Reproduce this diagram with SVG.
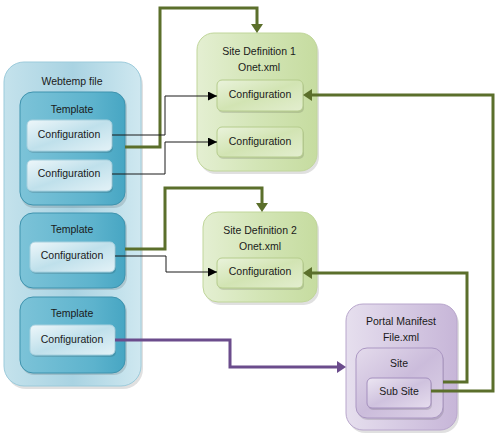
<svg xmlns="http://www.w3.org/2000/svg" width="500" height="436" viewBox="0 0 500 436">
<defs>
  <linearGradient id="gBlueOuter" x1="0" y1="0" x2="1" y2="0">
    <stop offset="0" stop-color="#c4e2ec"/>
    <stop offset="0.5" stop-color="#a9d3e2"/>
    <stop offset="1" stop-color="#cfe8f0"/>
  </linearGradient>
  <linearGradient id="gBlueTpl" x1="0" y1="0" x2="1" y2="0">
    <stop offset="0" stop-color="#7cc3d8"/>
    <stop offset="0.7" stop-color="#5db3cd"/>
    <stop offset="1" stop-color="#47a6c3"/>
  </linearGradient>
  <linearGradient id="gBlueCfg" x1="0" y1="0" x2="1" y2="1">
    <stop offset="0" stop-color="#eef7fa"/>
    <stop offset="0.5" stop-color="#bfe0eb"/>
    <stop offset="1" stop-color="#e4f2f7"/>
  </linearGradient>
  <linearGradient id="gGreenOuter" x1="0" y1="0" x2="1" y2="0">
    <stop offset="0" stop-color="#e4efd2"/>
    <stop offset="0.5" stop-color="#d3e5b6"/>
    <stop offset="1" stop-color="#c6dca0"/>
  </linearGradient>
  <linearGradient id="gGreenCfg" x1="0" y1="0" x2="1" y2="1">
    <stop offset="0" stop-color="#eaf3dc"/>
    <stop offset="0.5" stop-color="#d2e4b3"/>
    <stop offset="1" stop-color="#e3eecf"/>
  </linearGradient>
  <linearGradient id="gPurpleOuter" x1="0" y1="0" x2="1" y2="0">
    <stop offset="0" stop-color="#e6dfee"/>
    <stop offset="0.5" stop-color="#d6cae3"/>
    <stop offset="1" stop-color="#c7b6d8"/>
  </linearGradient>
  <linearGradient id="gPurpleMid" x1="0" y1="0" x2="1" y2="1">
    <stop offset="0" stop-color="#e4dbec"/>
    <stop offset="0.5" stop-color="#cbbcdb"/>
    <stop offset="1" stop-color="#ddd2e7"/>
  </linearGradient>
  <linearGradient id="gPurpleIn" x1="0" y1="0" x2="1" y2="1">
    <stop offset="0" stop-color="#ece6f2"/>
    <stop offset="0.5" stop-color="#cfc2de"/>
    <stop offset="1" stop-color="#e6ddee"/>
  </linearGradient>
  <marker id="aBlack" viewBox="0 0 10 10" refX="10" refY="5" markerWidth="9" markerHeight="9" markerUnits="userSpaceOnUse" orient="auto">
    <path d="M0,0 L10,5 L0,10 z" fill="#000"/>
  </marker>
  <marker id="aGreen" viewBox="0 0 10 10" refX="10" refY="5" markerWidth="10" markerHeight="10" markerUnits="userSpaceOnUse" orient="auto">
    <path d="M0,0 L10,5 L0,10 z" fill="#5b6f2b"/>
  </marker>
  <marker id="aPurple" viewBox="0 0 10 10" refX="10" refY="5" markerWidth="10" markerHeight="10" markerUnits="userSpaceOnUse" orient="auto">
    <path d="M0,0 L10,5 L0,10 z" fill="#6b4c8c"/>
  </marker>
</defs>
<style>
  text { font-family: "Liberation Sans", Arial, sans-serif; font-size: 10.5px; fill: #1a1a1a; text-anchor: middle; }
  .blueOuter { fill: url(#gBlueOuter); stroke: #9ccbdb; stroke-width: 1; }
  .blueTpl { fill: url(#gBlueTpl); stroke: #3e93ae; stroke-width: 1; }
  .blueCfg { fill: url(#gBlueCfg); stroke: #a6d0de; stroke-width: 1; }
  .greenOuter { fill: url(#gGreenOuter); stroke: #c0d69a; stroke-width: 1; }
  .greenCfg { fill: url(#gGreenCfg); stroke: #b5cc8c; stroke-width: 1; }
  .purpleOuter { fill: url(#gPurpleOuter); stroke: #b8a6cc; stroke-width: 1; }
  .purpleMid { fill: url(#gPurpleMid); stroke: #ab97c3; stroke-width: 1; }
  .purpleIn { fill: url(#gPurpleIn); stroke: #a48fbe; stroke-width: 1; }
  .shadow { fill: #000; opacity: 0.12; }
  .thin { fill: none; stroke: #1a1a1a; stroke-width: 1; marker-end: url(#aBlack); }
  .thickG { fill: none; stroke: #5b6f2b; stroke-width: 3; }
  .thickP { fill: none; stroke: #6b4c8c; stroke-width: 3; }
</style>

<g id="webtemp">
  <rect class="shadow" x="6" y="65" width="137" height="324" rx="20"/>
  <rect class="blueOuter" x="4" y="62" width="137" height="324" rx="20"/>
  <text x="72" y="85">Webtemp file</text>
</g>
<g id="template1">
  <rect class="shadow" x="21" y="94" width="106" height="114" rx="13"/>
  <rect class="blueTpl" x="20" y="92" width="105" height="113" rx="13"/>
  <text x="72" y="113">Template</text>
</g>
<g id="config1a">
  <rect class="shadow" x="28" y="122" width="85" height="31" rx="5"/>
  <rect class="blueCfg" x="27" y="120" width="85" height="31" rx="5"/>
  <text x="69" y="138">Configuration</text>
</g>
<g id="config1b">
  <rect class="shadow" x="28" y="162" width="85" height="31" rx="5"/>
  <rect class="blueCfg" x="27" y="160" width="85" height="31" rx="5"/>
  <text x="69" y="177">Configuration</text>
</g>
<g id="template2">
  <rect class="shadow" x="21" y="215" width="106" height="75" rx="13"/>
  <rect class="blueTpl" x="20" y="213" width="105" height="75" rx="13"/>
  <text x="72" y="233">Template</text>
</g>
<g id="config2">
  <rect class="shadow" x="31" y="244" width="85" height="30" rx="5"/>
  <rect class="blueCfg" x="30" y="242" width="85" height="30" rx="5"/>
  <text x="72" y="259">Configuration</text>
</g>
<g id="template3">
  <rect class="shadow" x="21" y="299" width="106" height="76" rx="13"/>
  <rect class="blueTpl" x="20" y="297" width="105" height="76" rx="13"/>
  <text x="72" y="317">Template</text>
</g>
<g id="config3">
  <rect class="shadow" x="31" y="327" width="85" height="30" rx="5"/>
  <rect class="blueCfg" x="30" y="325" width="85" height="30" rx="5"/>
  <text x="72" y="343">Configuration</text>
</g>

<g id="sitedef1">
  <rect class="shadow" x="199" y="36" width="120" height="138" rx="17"/>
  <rect class="greenOuter" x="197" y="33" width="120" height="138" rx="17"/>
  <text x="259" y="55">Site Definition 1</text>
  <text x="259" y="71">Onet.xml</text>
</g>
<g id="sd1config1">
  <rect class="shadow" x="218" y="82" width="86" height="31" rx="5"/>
  <rect class="greenCfg" x="217" y="80" width="86" height="31" rx="5"/>
  <text x="260" y="98">Configuration</text>
</g>
<g id="sd1config2">
  <rect class="shadow" x="218" y="129" width="86" height="30" rx="5"/>
  <rect class="greenCfg" x="217" y="127" width="86" height="30" rx="5"/>
  <text x="260" y="145">Configuration</text>
</g>

<g id="sitedef2">
  <rect class="shadow" x="205" y="215" width="114" height="90" rx="15"/>
  <rect class="greenOuter" x="203" y="212" width="114" height="90" rx="15"/>
  <text x="260" y="234">Site Definition 2</text>
  <text x="260" y="250">Onet.xml</text>
</g>
<g id="sd2config">
  <rect class="shadow" x="218" y="260" width="86" height="30" rx="5"/>
  <rect class="greenCfg" x="217" y="258" width="86" height="30" rx="5"/>
  <text x="260" y="275">Configuration</text>
</g>

<g id="portal">
  <rect class="shadow" x="348" y="307" width="111" height="126" rx="17"/>
  <rect class="purpleOuter" x="346" y="304" width="111" height="126" rx="17"/>
  <text x="401" y="325">Portal Manifest</text>
  <text x="401" y="341">File.xml</text>
</g>
<g id="site">
  <rect class="shadow" x="357" y="350" width="87" height="70" rx="11"/>
  <rect class="purpleMid" x="356" y="348" width="87" height="70" rx="11"/>
  <text x="399" y="367">Site</text>
</g>
<g id="subsite">
  <rect class="shadow" x="368" y="380" width="64" height="30" rx="5"/>
  <rect class="purpleIn" x="367" y="378" width="64" height="30" rx="5"/>
  <text x="399" y="395">Sub Site</text>
</g>

<g id="connectors">
  <polyline class="thickG" points="125,147 160,147 160,8 257,8 257,26"/>
  <path d="M251,24 L257,33 L263,24 z" fill="#5b6f2b"/>
  <polyline class="thickG" points="125,249 165,249 165,188 262,188 262,205"/>
  <path d="M256,203 L262,212 L268,203 z" fill="#5b6f2b"/>
  <polyline class="thin" points="112,135 165,135 165,96 217,96"/>
  <polyline class="thin" points="112,174 165,174 165,142 217,142"/>
  <polyline class="thin" points="115,256 166,256 166,272 217,272"/>
  <polyline class="thickP" points="115,340 230,340 230,367 338,367"/>
  <path d="M337,361 L346,367 L337,373 z" fill="#6b4c8c"/>
  <polyline class="thickG" points="443,382 467,382 467,273 311,273"/>
  <path d="M312,267 L303,273 L312,279 z" fill="#5b6f2b"/>
  <polyline class="thickG" points="431,391 493,391 493,95 311,95"/>
  <path d="M312,89 L303,95 L312,101 z" fill="#5b6f2b"/>
</g>
</svg>
